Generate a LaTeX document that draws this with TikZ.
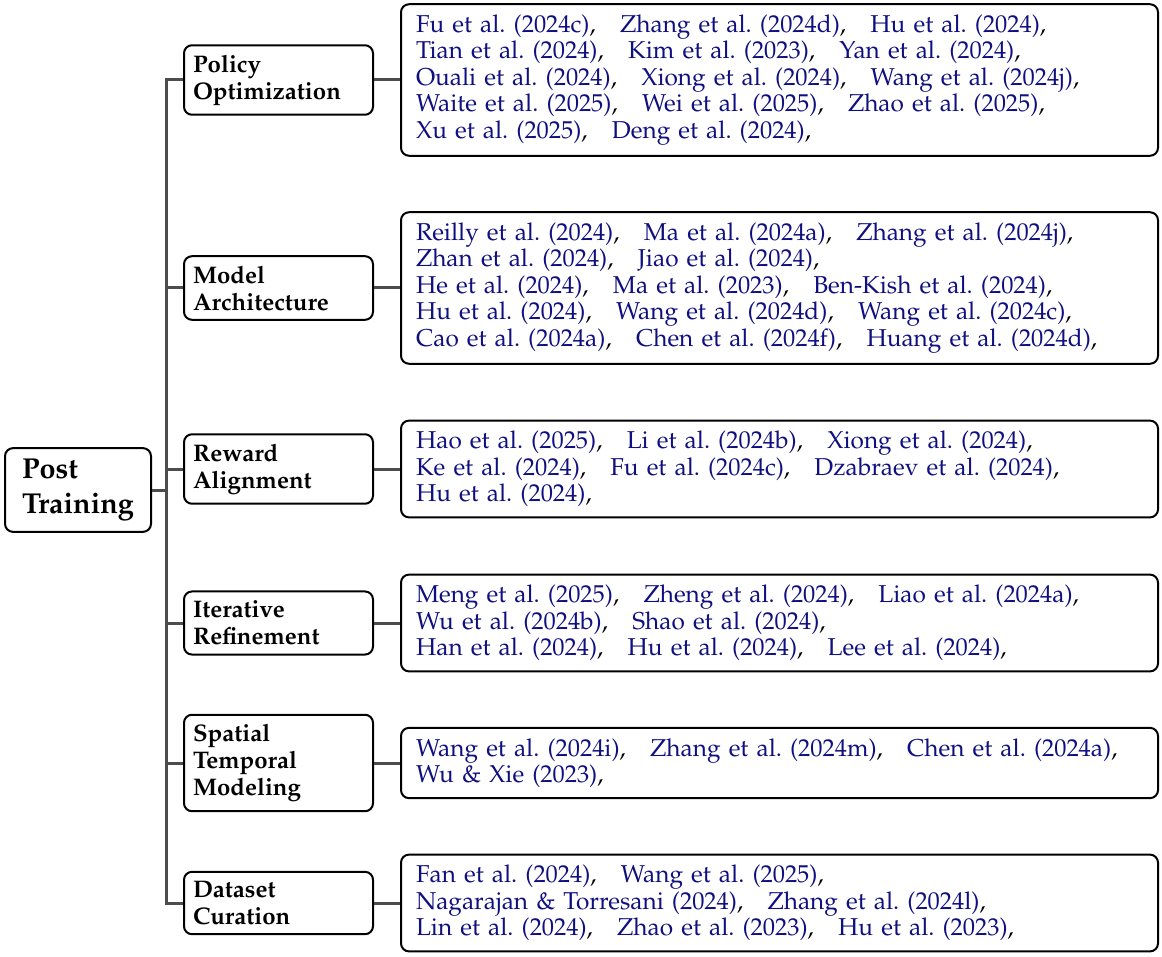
\documentclass[tikz,border=0pt]{standalone}
\usepackage[T1]{fontenc}
\usepackage{mathpazo}
\usepackage{xcolor}
\definecolor{citeblue}{rgb}{0.06,0.06,0.5}
\definecolor{edgegray}{rgb}{0.3,0.3,0.3}
\newcommand{\pap}[2]{\textcolor{citeblue}{#1 (#2)},}
\tikzset{
    rootbox/.style = {draw, line width=1pt, rounded corners=4pt, align=left, anchor=west,
        inner xsep=8.5pt, inner ysep=5.5pt, font=\fontsize{14.4}{17.5}\selectfont\bfseries},
    catbox/.style = {draw, line width=1pt, rounded corners=4pt, align=left, anchor=west,
        text width=85.5pt, inner xsep=4.5pt, inner ysep=4.75pt, font=\fontsize{12}{13.5}\selectfont\bfseries},
    citbox/.style = {draw, line width=1pt, rounded corners=4pt, align=left, anchor=west,
        text width=363.5pt, inner xsep=7.5pt, inner ysep=5.25pt, font=\fontsize{12.2}{13.25}\selectfont\frenchspacing},
    edge/.style = {draw=edgegray, line width=1.5pt}
}
\begin{document}
\begin{tikzpicture}[x=0.5pt, y=-0.5pt]
\useasboundingbox (0,0) rectangle (1162,957);
\node[rootbox] (post) at (4,490) {Post\\Training};
\coordinate (trunk) at (166,490);
\node[catbox] (po) at (183,80) {Policy\\Optimization};
\node[catbox] (ma) at (183,288) {Model\\Architecture};
\node[catbox] (ra) at (183,469) {Reward\\Alignment};
\node[catbox] (ir) at (183,623) {Iterative\\Refinement};
\node[catbox] (stm) at (183,763) {Spatial\\Temporal\\Modeling};
\node[catbox] (dc) at (183,903) {Dataset\\Curation};
\node[citbox] (poc) at (400,80) {\pap{Fu et al.}{2024c}\quad \pap{Zhang et al.}{2024d}\quad \pap{Hu et al.}{2024}\\
\pap{Tian et al.}{2024}\quad \pap{Kim et al.}{2023}\quad \pap{Yan et al.}{2024}\\
\pap{Ouali et al.}{2024}\quad \pap{Xiong et al.}{2024}\quad \pap{Wang et al.}{2024j}\\
\pap{Waite et al.}{2025}\quad \pap{Wei et al.}{2025}\quad \pap{Zhao et al.}{2025}\\
\pap{Xu et al.}{2025}\quad \pap{Deng et al.}{2024}};
\node[citbox] (mac) at (400,288) {\pap{Reilly et al.}{2024}\quad \pap{Ma et al.}{2024a}\quad \pap{Zhang et al.}{2024j}\\
\pap{Zhan et al.}{2024}\quad \pap{Jiao et al.}{2024}\\
\pap{He et al.}{2024}\quad \pap{Ma et al.}{2023}\quad \pap{Ben-Kish et al.}{2024}\\
\pap{Hu et al.}{2024}\quad \pap{Wang et al.}{2024d}\quad \pap{Wang et al.}{2024c}\\
\pap{Cao et al.}{2024a}\quad \pap{Chen et al.}{2024f}\quad \pap{Huang et al.}{2024d}};
\node[citbox] (rac) at (400,469) {\pap{Hao et al.}{2025}\quad \pap{Li et al.}{2024b}\quad \pap{Xiong et al.}{2024}\\
\pap{Ke et al.}{2024}\quad \pap{Fu et al.}{2024c}\quad \pap{Dzabraev et al.}{2024}\\
\pap{Hu et al.}{2024}};
\node[citbox] (irc) at (400,623) {\pap{Meng et al.}{2025}\quad \pap{Zheng et al.}{2024}\quad \pap{Liao et al.}{2024a}\\
\pap{Wu et al.}{2024b}\quad \pap{Shao et al.}{2024}\\
\pap{Han et al.}{2024}\quad \pap{Hu et al.}{2024}\quad \pap{Lee et al.}{2024}};
\node[citbox] (stmc) at (400,763) {\pap{Wang et al.}{2024i}\quad \pap{Zhang et al.}{2024m}\quad \pap{Chen et al.}{2024a}\\
\pap{Wu \& Xie}{2023}};
\node[citbox] (dcc) at (400,903) {\pap{Fan et al.}{2024}\quad \pap{Wang et al.}{2025}\\
\pap{Nagarajan \& Torresani}{2024}\quad \pap{Zhang et al.}{2024l}\\
\pap{Lin et al.}{2024}\quad \pap{Zhao et al.}{2023}\quad \pap{Hu et al.}{2023}};
\draw[edge] (po.west) -- (trunk |- po.west) -- (trunk |- dc.west) -- (dc.west);
\draw[edge] (post.east) -- (trunk);
\draw[edge] (trunk |- ma.west) -- (ma.west);
\draw[edge] (trunk |- ra.west) -- (ra.west);
\draw[edge] (trunk |- ir.west) -- (ir.west);
\draw[edge] (trunk |- stm.west) -- (stm.west);
\draw[edge] (po.east) -- (poc.west);
\draw[edge] (ma.east) -- (mac.west);
\draw[edge] (ra.east) -- (rac.west);
\draw[edge] (ir.east) -- (irc.west);
\draw[edge] (stm.east) -- (stmc.west);
\draw[edge] (dc.east) -- (dcc.west);
\end{tikzpicture}
\end{document}
